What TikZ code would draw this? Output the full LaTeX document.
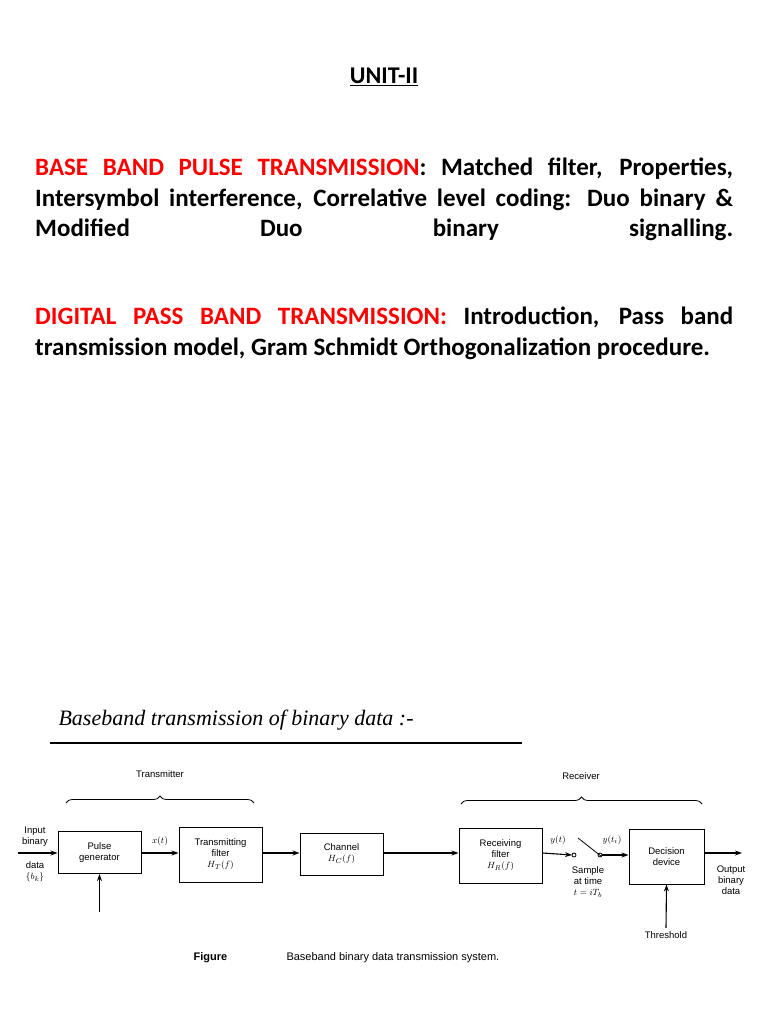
\documentclass[tikz,border=0pt]{standalone}
\usepackage{fontspec}
\setmainfont{Carlito}
\newfontfamily\diag{Liberation Sans}
\newfontfamily\hand{Liberation Serif}
\usetikzlibrary{arrows.meta,decorations.pathreplacing}
\begin{document}
\begin{tikzpicture}[x=1pt,y=-1pt,
  blk/.style={draw,line width=1pt,align=center,font=\diag\fontsize{9.5}{11}\selectfont},
  lbl/.style={font=\diag\fontsize{9.5}{11}\selectfont,align=center},
  arr/.style={-{Stealth[length=7pt,width=5pt]},line width=1.1pt},
  para/.style={anchor=north west,inner sep=0pt,text width=698pt,align=justify,font=\bfseries\fontsize{25}{30.5}\selectfont}]
\useasboundingbox (0,0) rectangle (768,1024);
\node (unit) at (384,77) {\bfseries\fontsize{24}{28}\selectfont\underline{UNIT-II}};
\node[para] (p1) at (35,158) {\textcolor{red}{BASE BAND PULSE TRANSMISSION}: Matched filter, Properties,\linebreak Intersymbol interference, Correlative level coding: Duo binary \&\linebreak Modified\hfill Duo\hfill binary\hfill signalling.};
\node[para] (p2) at (35,307) {\textcolor{red}{DIGITAL PASS BAND TRANSMISSION:} Introduction, Pass band\linebreak transmission model, Gram Schmidt Orthogonalization procedure.};
% handwritten heading
\node[anchor=west] (hd) at (55,720) {\hand\itshape\fontsize{22}{26}\selectfont Baseband transmission of binary data :-};
\draw[line width=1.2pt] (50,743) -- (522,743);
% blocks
\node[blk,minimum width=83pt,minimum height=42pt] (pg) at (99.5,852.5) {Pulse\\generator};
\node[blk,minimum width=83pt,minimum height=55pt] (tf) at (220.5,854.5) {Transmitting\\filter\\$H_T(f)$};
\node[blk,minimum width=83pt,minimum height=42pt] (ch) at (341.5,854) {Channel\\$H_C(f)$};
\node[blk,minimum width=83pt,minimum height=55pt] (rf) at (500.5,855.5) {Receiving\\filter\\$H_R(f)$};
\node[blk,minimum width=75pt,minimum height=55pt] (dd) at (666.5,856.5) {Decision\\device};
% input/output
\coordinate (in) at (18,853);
\coordinate (out) at (742,853);
\draw[arr] (in) -- (in-|pg.west);
\node[lbl,anchor=south] (ib) at (35,850) {Input\\binary};
\node[lbl,anchor=north] (idata) at (35,858) {data\\$\{b_k\}$};
\draw[arr] (pg.east|-in) -- (tf.west|-in) node[lbl,midway,above=3pt] (xt) {$x(t)$};
\draw[arr] (tf.east|-in) -- (ch.west|-in);
\draw[arr] (ch.east|-in) -- (rf.west|-in);
\coordinate (s1) at (574,855);
\coordinate (s2) at (600,855);
\draw[arr] (rf.east|-in) -- ([xshift=-2pt]s1);
\draw[line width=0.8pt] (s1) circle (2pt) (s2) circle (2pt);
\draw[line width=0.8pt] ([xshift=1.5pt,yshift=-1.5pt]s2) -- (578,838);
\draw[arr] ([xshift=2pt]s2) -- (dd.west|-s2);
\draw[arr] (dd.east|-in) -- (out);
\node[lbl] (yt) at (558,840) {$y(t)$};
\node[lbl] (yti) at (612,840) {$y(t_i)$};
\node[lbl,anchor=north] (samp) at (588,863) {Sample\\at time\\$t=iT_b$};
\node[lbl,anchor=north] (obd) at (731,862) {Output\\binary\\data};
\coordinate (pin) at (pg.south|-0,912);
\draw[arr] (pin) -- (pg.south);
\node[lbl] (thr) at (666,935) {Threshold};
\draw[arr] (thr.north) -- (dd.south);
% braces
\draw[decorate,decoration={brace,amplitude=7pt},line width=0.8pt] (66,803) -- (254,803);
\draw[decorate,decoration={brace,amplitude=7pt},line width=0.8pt] (461,804) -- (702,804);
\node[lbl] (tx) at (160,774) {Transmitter};
\node[lbl] (rx) at (581,776) {Receiver};
\node[lbl,anchor=west] (fig) at (190,958) {\bfseries\fontsize{11}{13}\selectfont Figure};
\node[lbl,anchor=west] (cap) at (283,958) {\fontsize{11}{13}\selectfont Baseband binary data transmission system.};
\end{tikzpicture}
\end{document}
